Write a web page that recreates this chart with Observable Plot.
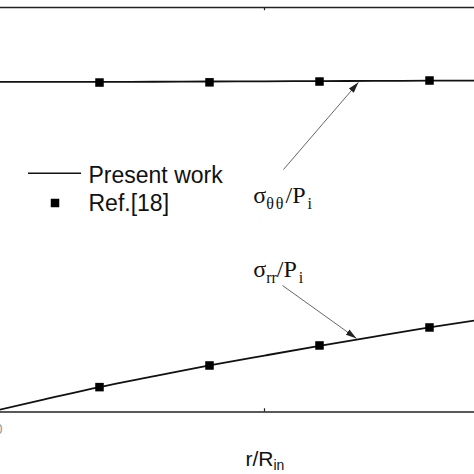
<!DOCTYPE html>
<html><head><meta charset="utf-8">
<script src="https://cdn.jsdelivr.net/npm/d3@7"></script>
<script src="https://cdn.jsdelivr.net/npm/@observablehq/plot@0.6"></script>
<style>
html,body{margin:0;padding:0;background:#fff;overflow:hidden;}
#chart svg{overflow:hidden;display:block;}
</style>
</head><body><div id="chart"></div>
<script>
// ---- data ----
const rLine = [1.0, 1.1, 1.2, 1.3, 1.4, 1.5, 1.6, 1.7, 1.8, 1.9];
const sigmaRRLine = [-1.0, -0.938, -0.877, -0.823, -0.770, -0.721, -0.673, -0.627, -0.582, -0.540];
const sigmaTTLine = [0.632, 0.632, 0.632, 0.633, 0.634, 0.635, 0.636, 0.637, 0.638, 0.639];
const rRef = [1.2, 1.4, 1.6, 1.8];
const sigmaRRRef = [-0.877, -0.770, -0.671, -0.582];
const sigmaTTRef = [0.629, 0.630, 0.634, 0.639];
const xTicks = [1.0, 1.5, 2.0];
const xTickLabels = ["1.0"];
const xDomain = [1, 2];
const yDomain = [-1, 1];
const legendLabels = ["Present work", "Ref.[18]"];
const annotationLabels = ["σθθ/Pi", "σrr/Pi"];
const xLabel = "r/Rin";
// annotation arrows [x1, y1, x2, y2] in data units
const arrowTT = [1.5345, 0.199, 1.6709, 0.630];
const arrowRR = [1.5327, -0.3745, 1.6673, -0.6366];
const annTextPos = [[1.4795, 0.0344], [1.4795, -0.3335]];
const legendLine = [1.0709, 1.1673, 0.1807];
const legendDot = [1.1191, 0.0334];

const lineData = rLine.map((r, i) => ({r, rr: sigmaRRLine[i], tt: sigmaTTLine[i]}));
const refData = rRef.map((r, i) => ({r, rr: sigmaRRRef[i], tt: sigmaTTRef[i]}));

function filledArrow(color) {
  const m = d3.create("svg:marker")
    .attr("viewBox", "-11 -3.5 11 7")
    .attr("markerWidth", 11).attr("markerHeight", 7)
    .attr("markerUnits", "userSpaceOnUse")
    .attr("orient", "auto")
    .attr("refX", 0).attr("refY", 0)
    .attr("fill", "#222").attr("stroke", "none");
  m.append("path").attr("d", "M0,0L-11,-3.2L-11,3.2Z");
  return m.node();
}

const SANS = "Liberation Sans, Arial, sans-serif";
const SERIF = "Liberation Serif, Times New Roman, serif";

const chart = Plot.plot({
  width: 474, height: 474,
  marginTop: 7, marginBottom: 62.5, marginLeft: 0, marginRight: 0,
  x: {domain: xDomain, range: [-11, 539], axis: null},
  y: {domain: yDomain, axis: null},
  style: {background: "#fff"},
  marks: [
    Plot.ruleY([yDomain[0], yDomain[1]], {stroke: "#222", strokeWidth: 1.6}),
    Plot.ruleX([xTicks[1]], {y1: yDomain[0], y2: yDomain[0] + 0.016, stroke: "#222", strokeWidth: 1.2}),
    Plot.ruleX([xTicks[1]], {y1: yDomain[1], y2: yDomain[1] - 0.016, stroke: "#222", strokeWidth: 1.2}),
    Plot.text(xTickLabels, {x: () => xTicks[0], frameAnchor: "bottom", dy: 22, dx: 13, textAnchor: "end", lineAnchor: "bottom", fontSize: 14, fill: "#999", fontFamily: SANS}),
    Plot.line(lineData, {x: "r", y: "tt", stroke: "#111", strokeWidth: 1.8, curve: "monotone-x"}),
    Plot.line(lineData, {x: "r", y: "rr", stroke: "#111", strokeWidth: 1.8, curve: "monotone-x"}),
    Plot.dot(refData, {x: "r", y: "tt", symbol: "square", r: 4.8, fill: "#000", stroke: "none"}),
    Plot.dot(refData, {x: "r", y: "rr", symbol: "square", r: 4.8, fill: "#000", stroke: "none"}),
    Plot.link([arrowTT, arrowRR], {x1: d => d[0], y1: d => d[1], x2: d => d[2], y2: d => d[3], stroke: "#555", strokeWidth: 0.9, markerEnd: filledArrow}),
    Plot.text([annotationLabels[0]], {x: () => annTextPos[0][0], y: () => annTextPos[0][1], textAnchor: "start", lineAnchor: "bottom", fontSize: 24, fontFamily: SERIF, fill: "#111"}),
    Plot.text([annotationLabels[1]], {x: () => annTextPos[1][0], y: () => annTextPos[1][1], textAnchor: "start", lineAnchor: "bottom", fontSize: 24, fontFamily: SERIF, fill: "#111"}),
    Plot.ruleY([legendLine[2]], {x1: legendLine[0], x2: legendLine[1], stroke: "#111", strokeWidth: 1.5}),
    Plot.dot([legendDot], {x: d => d[0], y: d => d[1], symbol: "square", r: 4.8, fill: "#000", stroke: "none"}),
    Plot.text([legendLabels[0]], {frameAnchor: "top-left", dx: 88, dy: 175, textAnchor: "start", lineAnchor: "bottom", fontSize: 23, fontFamily: SANS, fill: "#111"}),
    Plot.text([legendLabels[1]], {frameAnchor: "top-left", dx: 88, dy: 203, textAnchor: "start", lineAnchor: "bottom", fontSize: 23, fontFamily: SANS, fill: "#111"}),
    Plot.text([xLabel], {x: () => xTicks[1], frameAnchor: "bottom", dx: -19, dy: 54, textAnchor: "start", lineAnchor: "bottom", fontSize: 21, fontFamily: SANS, fill: "#111"})
  ]
});
document.getElementById("chart").appendChild(chart);

function rich(label, parts, shift) {
  d3.select(chart).selectAll("text").filter(function () { return this.textContent === label; }).each(function () {
    const t = d3.select(this);
    t.text("");
    let shifted = false;
    for (const [s, sub, size, attrs] of parts) {
      const ts = t.append("tspan").text(s);
      if (attrs) for (const k in attrs) ts.attr(k, attrs[k]);
      if (sub) {
        ts.attr("font-size", size);
        if (!shifted) { ts.attr("dy", shift); shifted = true; }
      } else if (shifted) { ts.attr("dy", -shift); shifted = false; }
    }
  });
}
rich(annotationLabels[0], [["σ"], ["θθ", true, 16, {"letter-spacing": 2}], ["/P"], ["i", true, 16, {dx: 2}]], 6);
rich(annotationLabels[1], [["σ"], ["rr", true, 16], ["/P"], ["i", true, 16, {dx: 2}]], 6);
rich(xLabel, [["r/R"], ["in", true, 14]], 4);
</script>
</body></html>
